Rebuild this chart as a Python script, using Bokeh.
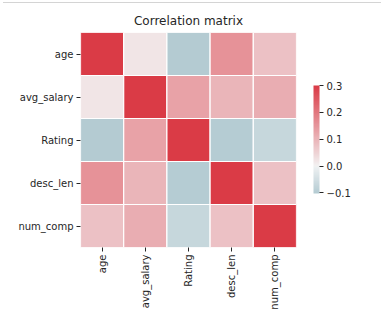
import math
from bokeh.plotting import figure
from bokeh.models import (FactorRange, FixedTicker, ColumnDataSource,
                          LinearColorMapper, ColorBar, InlineStyleSheet)
from bokeh.embed import file_html
from bokeh.resources import INLINE

# ---------------- data ----------------
labels = ["age", "avg_salary", "Rating", "desc_len", "num_comp"]
corr = [
    [1.00, 0.02, -0.102, 0.155, 0.08],
    [0.02, 1.00, 0.13, 0.10, 0.11],
    [-0.102, 0.13, 1.00, -0.10, -0.07],
    [0.155, 0.10, -0.10, 1.00, 0.08],
    [0.08, 0.11, -0.07, 0.08, 1.00],
]
vmax = 0.3
center = 0.0
cbar_ticks = [-0.1, 0.0, 0.1, 0.2, 0.3]
cbar_tick_labels = ["\u22120.1", "0.0", "0.1", "0.2", "0.3"]

# ---------------- seaborn diverging_palette(220, 10) ----------------
M = [[3.240969941904521, -1.537383177570093, -0.498610760293],
     [-0.96924363628087, 1.87596750150772, 0.041555057407175],
     [0.055630079696993, -0.20397695888897, 1.056971514242878]]
REF_U, REF_V = 0.19783000664283, 0.46831999493879
KAPPA, EPS = 903.2962962, 0.0088564516


def _bounds(L):
    sub1 = (L + 16) ** 3 / 1560896
    sub2 = sub1 if sub1 > EPS else L / KAPPA
    out = []
    for m1, m2, m3 in M:
        for t in (0, 1):
            top1 = (284517 * m1 - 94839 * m3) * sub2
            top2 = (838422 * m3 + 769860 * m2 + 731718 * m1) * L * sub2 - 769860 * t * L
            bottom = (632260 * m3 - 126452 * m2) * sub2 + 126452 * t
            out.append((top1 / bottom, top2 / bottom))
    return out


def _max_chroma(L, H):
    hr = math.radians(H)
    best = float("inf")
    for slope, inter in _bounds(L):
        length = inter / (math.sin(hr) - slope * math.cos(hr))
        if length >= 0:
            best = min(best, length)
    return best


def husl_to_rgb(h, s, l):
    C = _max_chroma(l, h) / 100 * s
    hr = math.radians(h)
    U, V = C * math.cos(hr), C * math.sin(hr)
    L = l
    Y = ((L + 16) / 116) ** 3 if L > 8 else L / KAPPA
    vu = U / (13 * L) + REF_U
    vv = V / (13 * L) + REF_V
    X = -(9 * Y * vu) / ((vu - 4) * vv - vu * vv)
    Z = (9 * Y - 15 * vv * Y - vv * X) / (3 * vv)
    rgb = []
    for r in M:
        c = r[0] * X + r[1] * Y + r[2] * Z
        c = 12.92 * c if c <= 0.0031308 else 1.055 * c ** (1 / 2.4) - 0.055
        rgb.append(min(1.0, max(0.0, c)))
    return rgb


def blend(c1, c2, n):
    return [[c1[k] + (c2[k] - c1[k]) * i / (n - 1) for k in range(3)] for i in range(n)]


neg_full = husl_to_rgb(220, 75, 50)
neg_gray = husl_to_rgb(220, 75 * 0.15, 95)
pos_full = husl_to_rgb(10, 75, 50)
pos_gray = husl_to_rgb(10, 75 * 0.15, 95)
nodes = blend(neg_full, neg_gray, 128) + [[0.95, 0.95, 0.95]] + blend(pos_gray, pos_full, 128)


def interp_nodes(x):
    n = len(nodes) - 1
    pos = x * n
    i = min(int(pos), n - 1)
    f = pos - i
    return [nodes[i][k] + (nodes[i + 1][k] - nodes[i][k]) * f for k in range(3)]


base_lut = [interp_nodes(i / 255) for i in range(256)]

vals = [v for r in corr for v in r]
vmin = min(vals)
vrange = max(vmax - center, center - vmin)
cmin = (vmin - (center - vrange)) / (2 * vrange)
cmax = (vmax - (center - vrange)) / (2 * vrange)
lut = []
for j in range(256):
    cc = cmin + (cmax - cmin) * j / 255
    lut.append(base_lut[min(255, max(0, int(cc * 256)))])


def to_hex(c):
    return "#%02x%02x%02x" % tuple(int(round(x * 255)) for x in c)


palette = [to_hex(c) for c in lut]


def color_of(v):
    t = (v - vmin) / (vmax - vmin)
    idx = min(255, max(0, int(t * 256)))
    return palette[idx]


# ---------------- heatmap ----------------
xs, ys, cs = [], [], []
for i, rl in enumerate(labels):
    for j, cl in enumerate(labels):
        xs.append(cl)
        ys.append(rl)
        cs.append(color_of(corr[i][j]))
src = ColumnDataSource(dict(x=xs, y=ys, c=cs))

TXT = "#262626"
FONT = "DejaVu Sans"

frame_css = InlineStyleSheet(css="""
:host::after {
  content: "";
  position: absolute;
  top: 2px; left: 3px; right: 0px;
  height: 1px;
  background: #d4d4d4;
  z-index: 10;
  pointer-events: none;
}
""")

p = figure(width=381, height=324, x_range=FactorRange(*labels),
           y_range=FactorRange(*labels[::-1]), output_backend="svg",
           toolbar_location=None, title="Correlation matrix",
           min_border_left=80, min_border_right=85, min_border_top=32,
           min_border_bottom=77, stylesheets=[frame_css])
p.rect(x="x", y="y", width=1, height=1, source=src, fill_color="c",
       line_color="white", line_width=1.2)
p.title.align = "center"
p.title.text_font = FONT
p.title.text_font_size = "12px"
p.title.text_font_style = "normal"
p.title.text_color = TXT
p.outline_line_color = None
p.grid.visible = False
p.background_fill_color = "white"
for ax in (p.xaxis[0], p.yaxis[0]):
    ax.axis_line_color = None
    ax.major_tick_line_color = TXT
    ax.major_tick_in = 0
    ax.major_tick_out = 4
    ax.major_label_text_font = FONT
    ax.major_label_text_font_size = "10px"
    ax.major_label_text_color = TXT
    ax.major_label_standoff = 3
p.xaxis.major_label_orientation = math.pi / 2

# ---------------- colorbar ----------------
mapper = LinearColorMapper(palette=palette, low=vmin, high=vmax)
cbar = ColorBar(color_mapper=mapper, width=6, height=108, padding=0,
                location=(233, 54),
                ticker=FixedTicker(ticks=cbar_ticks),
                major_label_overrides={t: s for t, s in zip(cbar_ticks, cbar_tick_labels)},
                major_label_text_font=FONT, major_label_text_font_size="10px",
                major_label_text_color=TXT, label_standoff=3,
                major_tick_line_color=TXT, major_tick_in=0, major_tick_out=4,
                minor_tick_line_color=None, bar_line_color=None,
                border_line_color=None, background_fill_alpha=0)
p.add_layout(cbar, "center")

open("out.html", "w").write(file_html(p, INLINE))
